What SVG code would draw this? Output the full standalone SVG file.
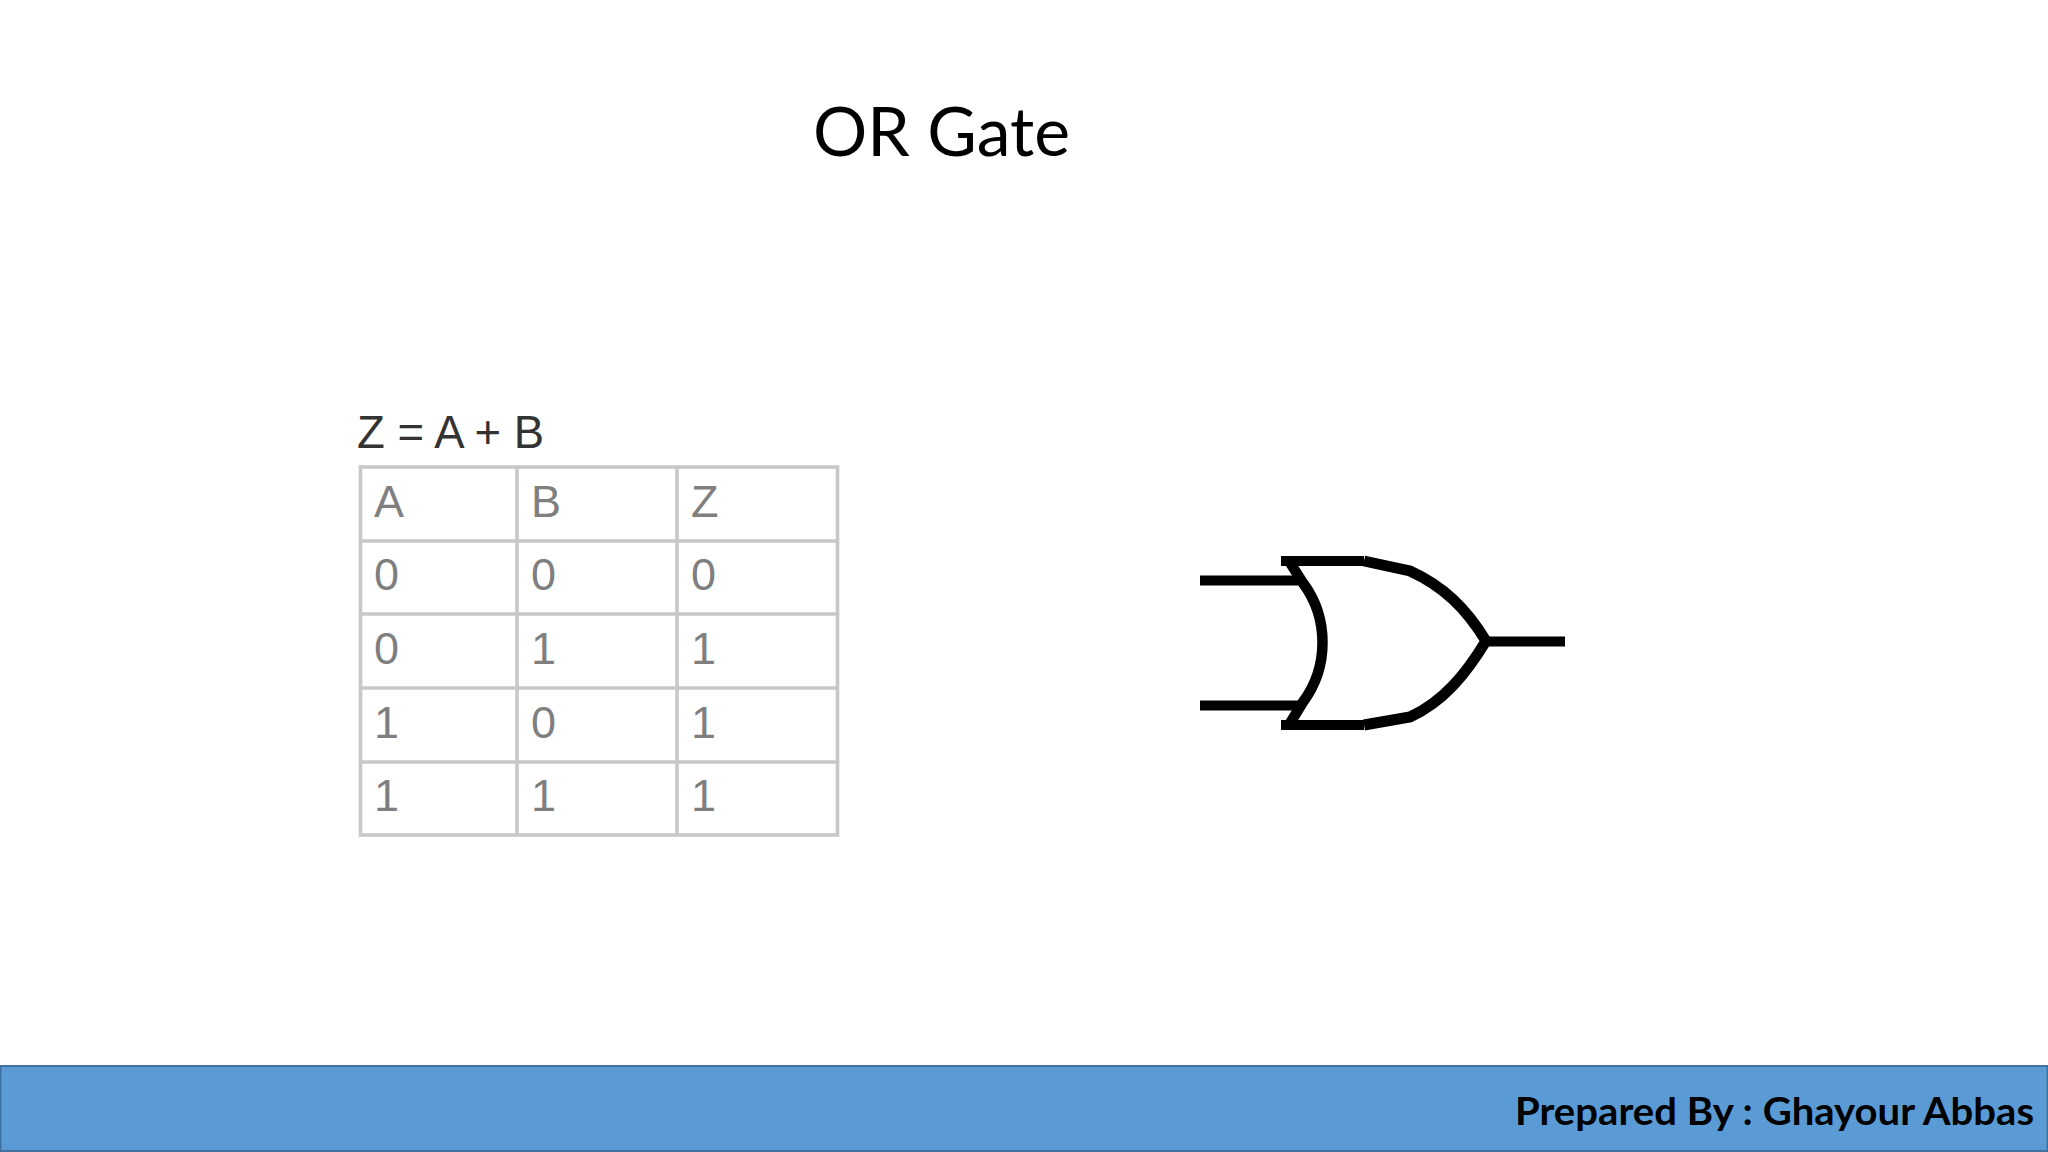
<svg xmlns="http://www.w3.org/2000/svg" width="2048" height="1152" viewBox="0 0 2048 1152">
<style>
.grid{stroke:#c8c8ca;stroke-width:3.6;fill:none}
.cell{font-family:"Liberation Sans",Arial,sans-serif;font-size:45px;fill:#7f7f7f}
.g{fill:none;stroke:#000;stroke-width:10}
</style>
<rect width="2048" height="1152" fill="#fff"/>
<text id="title" x="813" y="156" font-family="Lato,'Noto Sans',sans-serif" font-size="68" fill="#000" textLength="257" lengthAdjust="spacingAndGlyphs">OR Gate</text>
<g id="footer">
<rect x="0.500" y="1066" width="2047" height="85" fill="#5b9bd5" stroke="#41719c" stroke-width="2"/>
<text x="2034" y="1125" text-anchor="end" font-family="Lato,'Noto Sans',sans-serif" font-weight="700" font-size="38" fill="#000" textLength="519" lengthAdjust="spacingAndGlyphs">Prepared By : Ghayour Abbas</text>
</g>
<g id="truth-table">
<text x="357" y="448" font-family="'Liberation Sans',Arial,sans-serif" font-size="45.500" fill="#333">Z = A + B</text>
<rect class="grid" x="360.500" y="467" width="477" height="368"/>
<path class="grid" d="M517 467V835M677 467V835M360 541H838M360 614H838M360 688H838M360 762H838"/>
<text class="cell" x="374" y="517">A</text><text class="cell" x="531" y="517">B</text><text class="cell" x="691" y="517">Z</text>
<text class="cell" x="374" y="590">0</text><text class="cell" x="531" y="590">0</text><text class="cell" x="691" y="590">0</text>
<text class="cell" x="374" y="664">0</text><text class="cell" x="531" y="664">1</text><text class="cell" x="691" y="664">1</text>
<text class="cell" x="374" y="738">1</text><text class="cell" x="531" y="738">0</text><text class="cell" x="691" y="738">1</text>
<text class="cell" x="374" y="811">1</text><text class="cell" x="531" y="811">1</text><text class="cell" x="691" y="811">1</text>
</g>
<g id="or-gate">
<path class="g" d="M1200 580.500H1300M1200 705.500H1300M1487 641.500H1565"/>
<path class="g" d="M1281 561H1364M1281 725H1364"/>
<path fill="none" stroke="#000" stroke-width="11" d="M1364 561L1410 571C1443 586 1466 608 1486 641C1466 674 1443 702 1410 717L1364 725"/>
<path fill="none" stroke="#000" stroke-width="10.500" d="M1289 561L1303 583C1329 618 1329 667 1303 702L1289 725"/>
</g>
</svg>
